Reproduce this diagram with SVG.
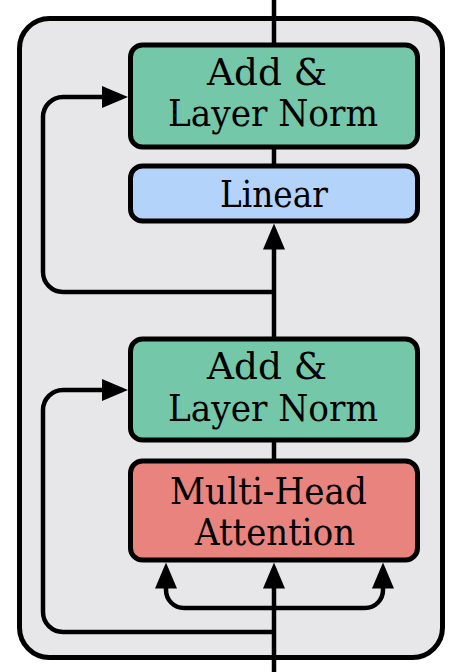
<svg xmlns="http://www.w3.org/2000/svg" width="474" height="672" viewBox="0 0 474 672">
<defs>
<style>
.box{stroke:#000;stroke-width:5}
.green{fill:#74C7A8}
.blue{fill:#B4D3FB}
.red{fill:#E8847D}
.lbl{font-family:"DejaVu Serif",serif;font-size:37.5px;fill:#000;text-anchor:middle}
.wire{fill:none;stroke:#000;stroke-width:4.5}
.arr{marker-end:url(#ah)}
</style>
<marker id="ah" markerUnits="userSpaceOnUse" markerWidth="26" markerHeight="22" refX="20" refY="11" orient="auto">
<path d="M0,0 L26,11 L0,22 Z" fill="#000"/>
</marker>
</defs>
<rect x="0" y="0" width="474" height="672" fill="#fff"/>
<g id="layer">
<rect x="19.5" y="18.5" width="423" height="639" rx="30" fill="#E7E7EA" stroke="#000" stroke-width="5"/>
</g>
<g id="connectors">
<path class="wire" d="M274,0 V45"/>
<path class="wire" d="M274,147 V166"/>
<path class="wire arr" d="M274,339 V229.5"/>
<path class="wire" d="M274,440 V461"/>
<path class="wire arr" d="M274,292 H63 A20,20 0 0 1 43,272 V117 A20,20 0 0 1 63,97 H122"/>
<path class="wire arr" d="M274,632 H63 A20,20 0 0 1 43,612 V410 A20,20 0 0 1 63,390 H122"/>
<path class="wire arr" d="M274,672 V568.5"/>
<path class="wire arr" d="M274,608 H184 A18,18 0 0 1 166,590 V568.5"/>
<path class="wire arr" d="M274,608 H365 A18,18 0 0 0 383,590 V568.5"/>
</g>
<g id="addnorm2">
<rect class="box green" x="130.5" y="45" width="287" height="102" rx="12"/>
<text class="lbl" x="267" y="85" textLength="120" lengthAdjust="spacingAndGlyphs">Add &amp;</text>
<text class="lbl" x="273" y="126" textLength="210" lengthAdjust="spacingAndGlyphs">Layer Norm</text>
</g>
<g id="linear">
<rect class="box blue" x="130.5" y="166" width="287" height="55" rx="12"/>
<text class="lbl" x="274" y="207" textLength="108" lengthAdjust="spacingAndGlyphs">Linear</text>
</g>
<g id="addnorm1">
<rect class="box green" x="130.5" y="339" width="287" height="101" rx="12"/>
<text class="lbl" x="267" y="379" textLength="120" lengthAdjust="spacingAndGlyphs">Add &amp;</text>
<text class="lbl" x="273" y="421" textLength="210" lengthAdjust="spacingAndGlyphs">Layer Norm</text>
</g>
<g id="mha">
<rect class="box red" x="130.5" y="461" width="287" height="99" rx="12"/>
<text class="lbl" x="268.5" y="504" textLength="197" lengthAdjust="spacingAndGlyphs">Multi-Head</text>
<text class="lbl" x="275" y="545" textLength="160" lengthAdjust="spacingAndGlyphs">Attention</text>
</g>
</svg>
